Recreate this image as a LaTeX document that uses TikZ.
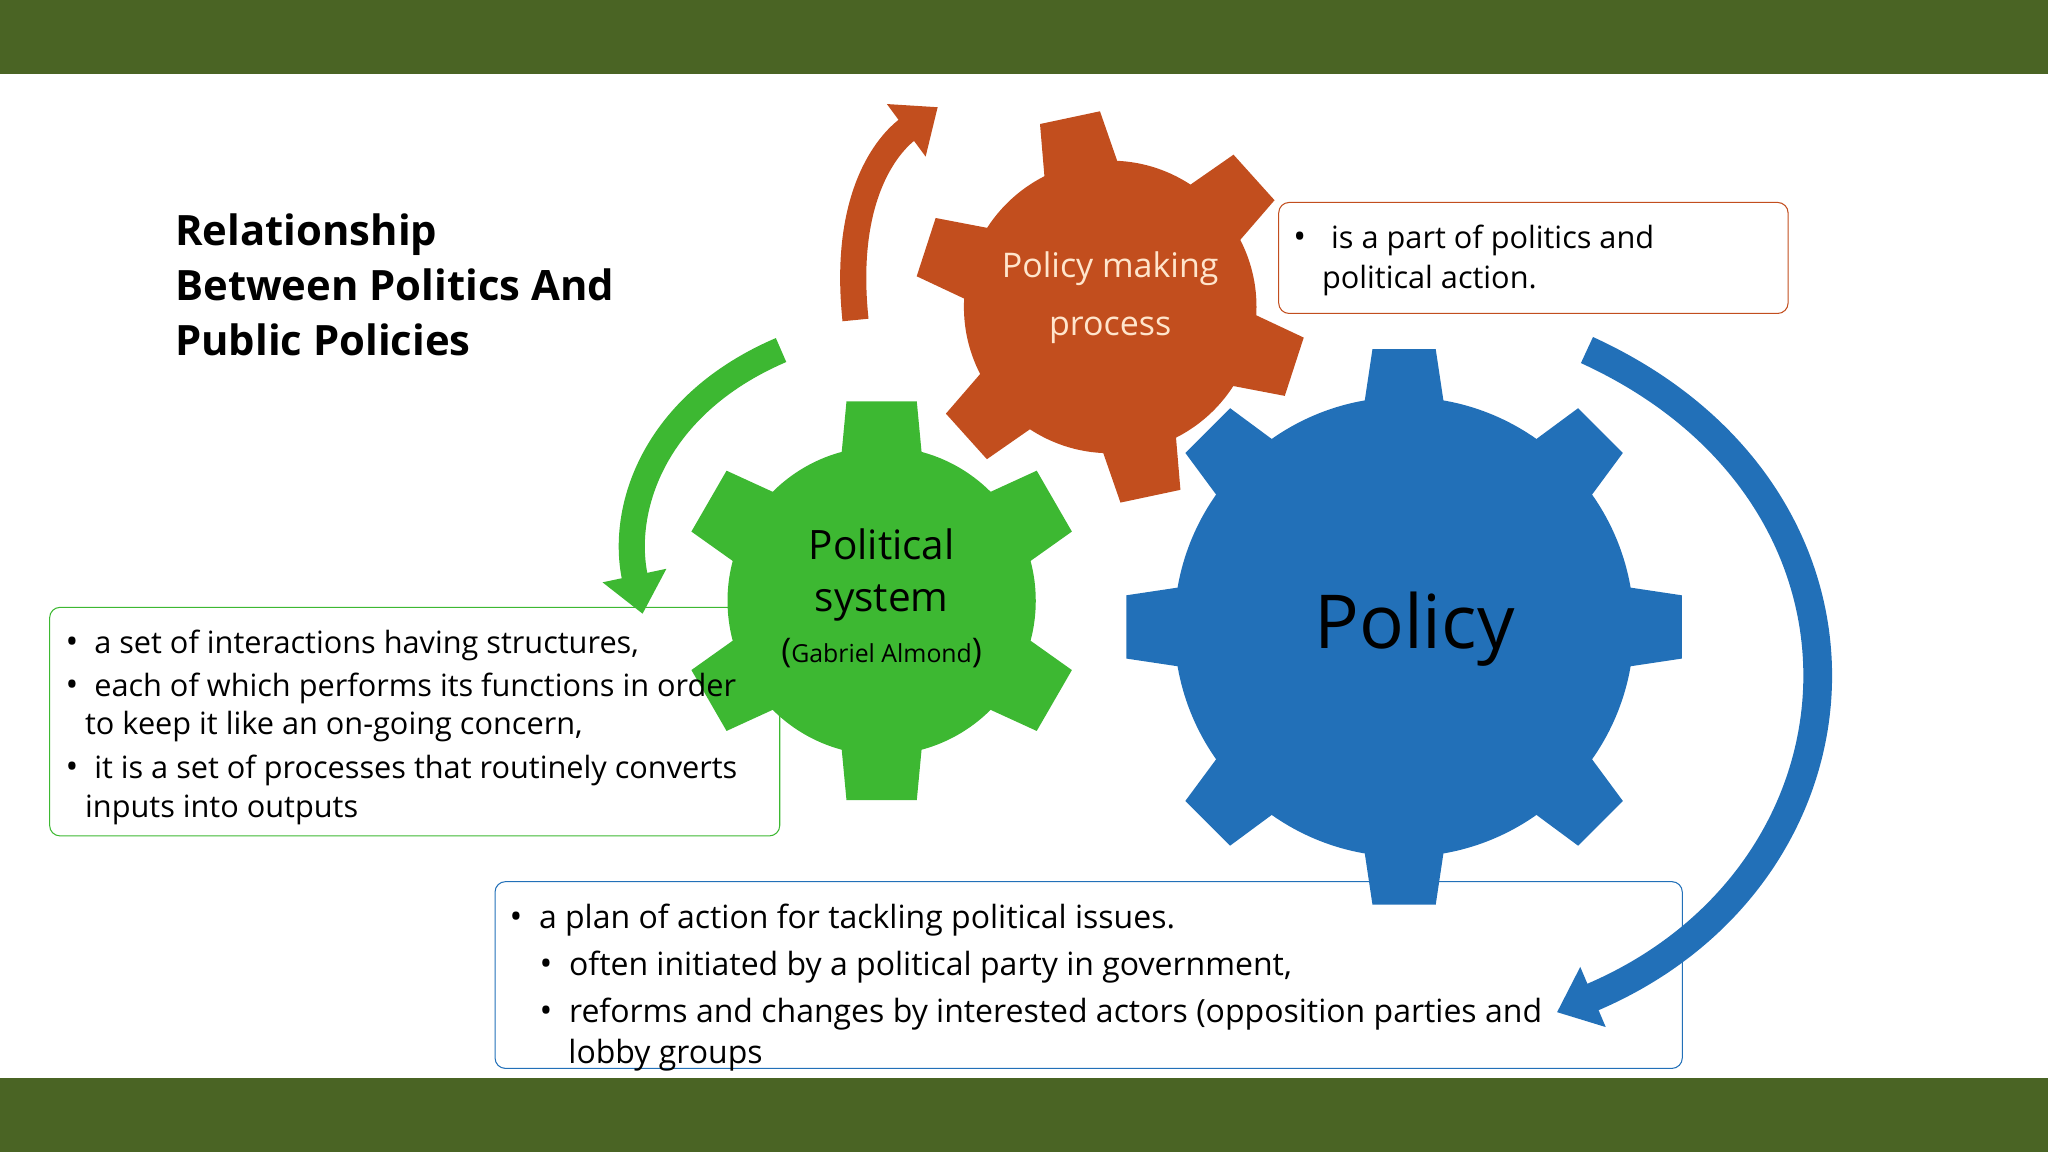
\documentclass[tikz,border=0pt]{standalone}
\usepackage{fontspec}
\setmainfont{Open Sans}
\usetikzlibrary{arrows.meta,calc}
\definecolor{band}{HTML}{4A6424}
\definecolor{gor}{HTML}{C24E1E}
\definecolor{ggr}{HTML}{3DB832}
\definecolor{gbl}{HTML}{2270B8}
\newcommand\mygear[9]{%
\fill[#7] (#1,#2) circle (#3);
\foreach \k in {1,...,#5}{
 \pgfmathsetmacro\a{#6+360/#5*\k}
 \fill[#7] ($(#1,#2)+(\a-#9:#3-10)$) -- ($(#1,#2)+(\a-#8:#4)$) -- ($(#1,#2)+(\a+#8:#4)$) -- ($(#1,#2)+(\a+#9:#3-10)$) -- cycle;}}
\newcommand\bul{{\fontsize{26}{26}\selectfont•}}
\tikzset{txt/.style={anchor=base west,inner sep=0,font=\fontsize{23.5}{25}\selectfont},
 btxt/.style={txt,font=\fontsize{24.5}{25}\selectfont},
 bx/.style={draw,rounded corners=8,line width=0.8},
 arr/.style={line width=20,-{Triangle[width=48,length=30]}}}
\begin{document}
\begin{tikzpicture}[x=1pt,y=-1pt]
\useasboundingbox (0,0) rectangle (1568,882);
\fill[band] (0,0) rectangle (1568,57);
\fill[band] (0,825) rectangle (1568,882);
% arrows
\coordinate (oa1) at (655,245); \coordinate (oa2) at (718,82);
\draw[arr,gor] (oa1) .. controls (645,150) and (680,110) .. (oa2);
\coordinate (ga1) at (598,268); \coordinate (ga2) at (492,470);
\draw[arr,ggr] (ga1) .. controls (500,310) and (475,390) .. (ga2);
\coordinate (ba1) at (1215,268); \coordinate (ba2) at (1192,775);
\draw[arr,gbl,line width=22] (ba1) .. controls (1460,380) and (1440,670) .. (ba2);
% gears
\mygear{850}{235}{112}{150}{6}{-102}{gor}{9}{17}
\mygear{675}{460}{118}{155}{6}{90}{ggr}{10}{17}
\mygear{1075}{480}{176}{214}{8}{90}{gbl}{6.5}{11}
\node[anchor=center,text=orange!20!white,font=\fontsize{26}{44}\selectfont,align=center] (om) at (850,228) {Policy making\\process};
\node[anchor=center,align=center,font=\fontsize{31}{40}\selectfont] (ps) at (675,440) {Political\\system};
\node[anchor=center,font=\fontsize{19}{22}\selectfont] (ga) at (675,500) {\fontsize{26}{26}\selectfont(\fontsize{19}{22}\selectfont Gabriel Almond\fontsize{26}{26}\selectfont)};
\node[anchor=center,font=\fontsize{57}{60}\selectfont] (pol) at (1083,482) {Policy};
% title
\node[anchor=base west,inner sep=0,align=left,font=\bfseries\fontsize{32}{42}\selectfont] (tt) at (134,272) {Relationship\\Between Politics And\\Public Policies};
% boxes
\draw[bx,gor] (979,155) rectangle (1369,240);
\node[txt] (o0) at (990,190) {\bul};
\node[txt] (o1) at (1019,190) {is a part of politics and};
\node[txt] (o2) at (1012,221) {political action.};
\draw[bx,ggr] (38,465) rectangle (597,640);
\node[txt] (g1) at (50,500) {\bul\ \ a set of interactions having structures,};
\node[txt] (g2) at (50,533) {\bul\ \ each of which performs its functions in order};
\node[txt] (g3) at (65,562) {to keep it like an on-going concern,};
\node[txt] (g4) at (50,596) {\bul\ \ it is a set of processes that routinely converts};
\node[txt] (g5) at (65,626) {inputs into outputs};
\draw[bx,gbl] (379,675) rectangle (1288,818);
\node[btxt] (b1) at (390,711) {\bul\ \ a plan of action for tackling political issues.};
\node[btxt] (b2) at (413,747) {\bul\ \ often initiated by a political party in government,};
\node[btxt] (b3) at (413,783) {\bul\ \ reforms and changes by interested actors (opposition parties and};
\node[btxt] (b4) at (435,814) {lobby groups};
\end{tikzpicture}
\end{document}
